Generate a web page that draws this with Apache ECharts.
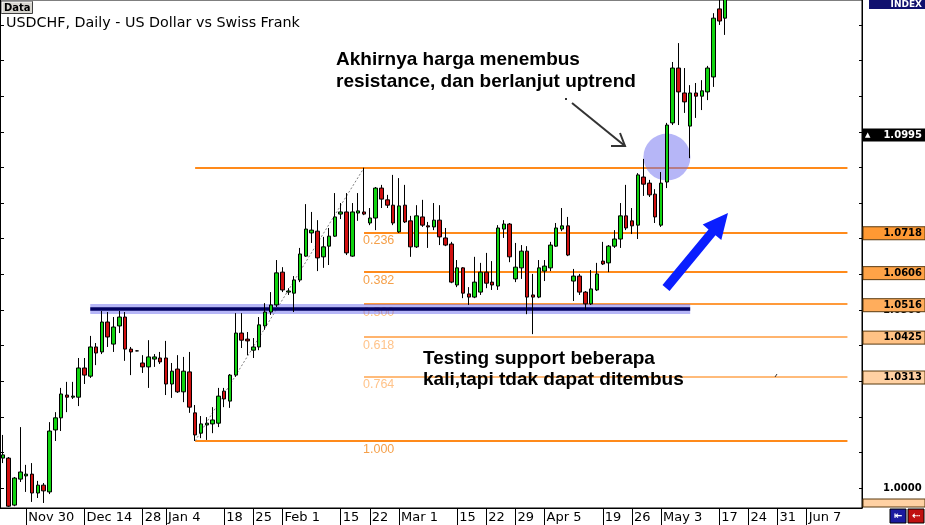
<!DOCTYPE html>
<html><head><meta charset="utf-8">
<script src="https://cdn.jsdelivr.net/npm/echarts@6/dist/echarts.min.js"></script>
<style>html,body{margin:0;padding:0;background:#fff}#c{width:925px;height:525px}</style>
</head><body><div id="c"></div>
<script>
// ---- trading days (weekdays, Jan 1 closed) ----
function tradingDays(startY, startM, startD, count, closed) {
  const out = []; const d = new Date(Date.UTC(startY, startM, startD));
  while (out.length < count) {
    const wd = d.getUTCDay(); const s = d.toISOString().slice(0, 10);
    if (wd !== 0 && wd !== 6 && closed.indexOf(s) < 0) out.push(s);
    d.setUTCDate(d.getUTCDate() + 1);
  }
  return out;
}
const categories = tradingDays(2009, 10, 24, 148, ['2010-01-01']);

const xTickDates = ['2009-11-30','2009-12-14','2009-12-28','2010-01-04','2010-01-18','2010-01-25','2010-02-01','2010-02-15','2010-02-22','2010-03-01','2010-03-15','2010-03-22','2010-03-29','2010-04-05','2010-04-19','2010-04-26','2010-05-03','2010-05-17','2010-05-24','2010-05-31','2010-06-07'];
const xTickLabels = ['Nov 30','Dec 14','28','Jan 4','18','25','Feb 1','15','22','Mar 1','15','22','29','Apr 5','19','26','May 3','17','24','31','Jun 7'];

// ---- USDCHF daily OHLC ----
const opens = [1.0084,1.0084,0.9952,1.0025,1.0034,1.0039,0.9986,1.0008,0.9989,1.0163,
1.0197,1.0261,1.0255,1.0255,1.0337,1.0314,1.0396,1.0382,1.0466,1.0404,
1.0455,1.0480,1.0390,1.0385,1.0351,1.0340,1.0362,1.0365,1.0365,1.0292,
1.0334,1.0270,1.0326,1.0211,1.0154,1.0177,1.0180,1.0182,1.0272,1.0244,
1.0317,1.0435,1.0418,1.0387,1.0396,1.0455,1.0494,1.0514,1.0606,1.0550,
1.0547,1.0584,1.0651,1.0716,1.0721,1.0649,1.0679,1.0707,1.0769,1.0775,
1.0651,1.0772,1.0775,1.0744,1.0758,1.0842,1.0809,1.0794,1.0719,1.0794,
1.0750,1.0677,1.0761,1.0736,1.0733,1.0752,1.0702,1.0685,1.0570,1.0618,
1.0545,1.0536,1.0550,1.0606,1.0578,1.0567,1.0727,1.0741,1.0587,1.0618,
1.0665,1.0542,1.0536,1.0609,1.0618,1.0679,1.0727,1.0736,1.0581,1.0595,
1.0550,1.0517,1.0556,1.0637,1.0632,1.0679,1.0699,1.0764,1.0750,1.0738,
1.0873,1.0856,1.0825,1.0738,1.0859,1.1025,1.1179,1.1109,1.1016,1.1109,
1.1100,1.1112,1.1154,1.1345,1.1319];
const closes = [1.0093,0.9949,1.0028,1.0045,1.0039,0.9986,1.0008,0.9992,1.0160,1.0197,
1.0264,1.0255,1.0258,1.0337,1.0317,1.0396,1.0379,1.0466,1.0424,1.0452,
1.0480,1.0390,1.0382,1.0385,1.0340,1.0368,1.0368,1.0354,1.0292,1.0328,
1.0270,1.0328,1.0227,1.0149,1.0180,1.0182,1.0191,1.0258,1.0250,1.0317,
1.0435,1.0415,1.0413,1.0396,1.0458,1.0494,1.0514,1.0604,1.0556,1.0553,
1.0584,1.0657,1.0727,1.0724,1.0646,1.0677,1.0707,1.0761,1.0775,1.0660,
1.0775,1.0778,1.0769,1.0758,1.0842,1.0811,1.0794,1.0744,1.0792,1.0747,
1.0677,1.0764,1.0738,1.0733,1.0752,1.0705,1.0682,1.0578,1.0618,1.0547,
1.0536,1.0578,1.0606,1.0575,1.0570,1.0730,1.0741,1.0649,1.0620,1.0665,
1.0536,1.0536,1.0618,1.0623,1.0682,1.0730,1.0736,1.0654,1.0595,1.0550,
1.0517,1.0559,1.0601,1.0629,1.0679,1.0699,1.0764,1.0730,1.0736,1.0879,
1.0853,1.0823,1.0761,1.0856,1.1019,1.1179,1.1112,1.1084,1.1109,1.1100,
1.1115,1.1179,1.1319,1.1311,1.1400];
const lows = [1.0070,0.9947,0.9949,1.0017,0.9989,0.9961,0.9972,0.9958,0.9983,1.0132,
1.0160,1.0213,1.0250,1.0230,1.0292,1.0309,1.0345,1.0376,1.0396,1.0382,
1.0435,1.0357,1.0317,1.0384,1.0323,1.0281,1.0340,1.0348,1.0261,1.0253,
1.0267,1.0241,1.0211,1.0132,1.0140,1.0135,1.0154,1.0171,1.0227,1.0225,
1.0312,1.0393,1.0373,1.0365,1.0387,1.0444,1.0486,1.0508,1.0550,1.0542,
1.0494,1.0578,1.0649,1.0688,1.0609,1.0618,1.0626,1.0705,1.0755,1.0654,
1.0649,1.0750,1.0766,1.0738,1.0724,1.0786,1.0786,1.0738,1.0716,1.0744,
1.0649,1.0674,1.0733,1.0674,1.0724,1.0682,1.0679,1.0575,1.0564,1.0533,
1.0514,1.0533,1.0542,1.0561,1.0556,1.0556,1.0702,1.0634,1.0578,1.0587,
1.0488,1.0432,1.0533,1.0581,1.0609,1.0677,1.0721,1.0651,1.0525,1.0542,
1.0500,1.0514,1.0553,1.0626,1.0606,1.0674,1.0674,1.0724,1.0713,1.0699,
1.0820,1.0817,1.0744,1.0733,1.0842,1.1019,1.1019,1.1053,1.0926,1.1039,
1.1061,1.1089,1.1126,1.1300,1.1272];
const highs = [1.0149,1.0087,1.0031,1.0171,1.0065,1.0070,1.0020,1.0014,1.0185,1.0213,
1.0281,1.0298,1.0298,1.0365,1.0365,1.0427,1.0407,1.0497,1.0494,1.0480,
1.0497,1.0494,1.0396,1.0386,1.0373,1.0415,1.0376,1.0382,1.0413,1.0351,
1.0373,1.0368,1.0382,1.0233,1.0202,1.0199,1.0227,1.0281,1.0281,1.0320,
1.0491,1.0491,1.0438,1.0421,1.0480,1.0519,1.0550,1.0640,1.0620,1.0561,
1.0595,1.0674,1.0797,1.0775,1.0752,1.0705,1.0730,1.0828,1.0800,1.0828,
1.0800,1.0828,1.0899,1.0786,1.0845,1.0851,1.0823,1.0879,1.0870,1.0851,
1.0764,1.0794,1.0809,1.0747,1.0800,1.0794,1.0730,1.0691,1.0640,1.0620,
1.0564,1.0649,1.0632,1.0660,1.0637,1.0738,1.0752,1.0744,1.0688,1.0682,
1.0679,1.0601,1.0640,1.0640,1.0691,1.0744,1.0786,1.0761,1.0615,1.0601,
1.0553,1.0612,1.0632,1.0691,1.0682,1.0724,1.0800,1.0851,1.0786,1.0884,
1.0924,1.0865,1.0839,1.0887,1.1025,1.1196,1.1249,1.1179,1.1131,1.1137,
1.1145,1.1185,1.1333,1.1390,1.1450];

// ---- y axis ----
const yMin = 0.99439, yMax = 1.13700;
const yTicks = [1.00,1.01,1.02,1.03,1.04,1.05,1.06,1.07,1.08,1.09,1.10,1.11,1.12,1.13];
const yTickLabels = [1.00, 1.05];

// ---- Fibonacci retracement ----
const fibHigh = 1.0899, fibLow = 1.0132;
const fibRatios = [0, 0.236, 0.382, 0.5, 0.618, 0.764, 1];
const fibLowDate = '2010-01-11', fibHighDate = '2010-02-19', fibEndDate = '2010-06-16';

// ---- support line / breakout ----
const supportLevel = 1.0503, supportStart = '2009-12-15', supportEnd = '2010-05-10';
const breakout = ['2010-05-04', 1.0929];
const currentPrice = 1.0995;

const chart = echarts.init(document.getElementById('c'), null, {renderer: 'canvas'});
const ohlc = opens.map((o, i) => [o, closes[i], lows[i], highs[i]]);
const fibLevels = fibRatios.map(r => +(fibHigh - r * (fibHigh - fibLow)).toFixed(4));
const fibLineColor = ['#ff8a1a','#ff8a1a','#ff8a1a','#ff9a3a','#ffb46e','#ffbb7a','#ff8a1a'];
const fibTextColor = ['#f5a04a','#f5a04a','#f5a04a','#ffc080','#ffc38a','#ffc38a','#f5a04a'];
const priceBoxColor = ['#ff9933','#ff9933','#ffa347','#ffad5c','#ffc285','#ffd1a3','#ff9933'];

const fibMark = [];
fibLevels.forEach((lv, i) => {
  const r = fibRatios[i];
  const start = (r === 0 || r === 1) ? fibLowDate : fibHighDate;
  fibMark.push([{coord: [start, lv], lineStyle: {color: fibLineColor[i], width: 2, type: 'solid'}}, {coord: [fibEndDate, lv]}]);
});
fibMark.push([{coord: [fibLowDate, fibLow], lineStyle: {color: '#808080', width: 1, type: [2, 2]}}, {coord: [fibHighDate, fibHigh]}]);

const tickSet = new Set(xTickDates);
const F = '"DejaVu Sans", sans-serif';

chart.setOption({
  animation: false,
  backgroundColor: '#fff',
  grid: {left: 0, right: 63, top: 0, bottom: 17, show: true, borderColor: '#000', borderWidth: 1, backgroundColor: 'transparent'},
  xAxis: {
    type: 'category', data: categories, boundaryGap: true,
    axisLine: {show: true, lineStyle: {color: '#000', width: 1}},
    axisTick: {show: true, alignWithLabel: true, length: 17, interval: (i, v) => tickSet.has(v), lineStyle: {color: '#000'}},
    axisLabel: {show: true, interval: (i, v) => tickSet.has(v), formatter: v => xTickLabels[xTickDates.indexOf(v)] || '',
      align: 'left', margin: 3, padding: [0, 0, 0, 2], color: '#000', fontFamily: F, fontSize: 13},
    splitLine: {show: false}
  },
  yAxis: [{
    type: 'value', position: 'right', min: yMin, max: yMax, scale: true,
    axisLine: {show: true, lineStyle: {color: '#000'}},
    axisTick: {show: true, inside: true, length: 3, customValues: yTicks, lineStyle: {color: '#000'}},
    axisLabel: {show: true, customValues: yTickLabels, formatter: v => v.toFixed(4), margin: 21, color: '#000', fontFamily: F, fontSize: 10, fontWeight: 'bold'},
    splitLine: {show: false}
  }, {
    type: 'value', position: 'left', min: yMin, max: yMax, scale: true,
    axisLine: {show: true, lineStyle: {color: '#000'}},
    axisTick: {show: true, inside: true, length: 4, customValues: yTicks, lineStyle: {color: '#000'}},
    axisLabel: {show: false}, splitLine: {show: false}
  }],
  series: [
    {type: 'line', name: 'fib', data: [], silent: true,
     markLine: {z: 1, silent: true, animation: false, symbol: ['none', 'none'], label: {show: false}, data: fibMark}},
    {type: 'line', name: 'support', data: [], silent: true,
     markLine: {z: 2, silent: true, animation: false, symbol: ['none', 'none'], label: {show: false}, data: [
       [{coord: [supportStart, supportLevel], lineStyle: {color: 'rgb(110,110,240)', opacity: 0.5, width: 10, type: 'solid'}}, {coord: [supportEnd, supportLevel]}],
       [{coord: [supportStart, supportLevel], lineStyle: {color: '#000060', opacity: 1, width: 3.5, type: 'solid'}}, {coord: [supportEnd, supportLevel]}]
     ]}},
    {type: 'scatter', name: 'breakout', data: [breakout], symbolSize: 47, z: 2, silent: true,
     itemStyle: {color: 'rgb(110,110,240)', opacity: 0.5}},
    {type: 'candlestick', name: 'USDCHF', data: ohlc, z: 3, barWidth: 4, clip: true,
     itemStyle: {color: '#10d410', color0: '#d01010', borderColor: '#000', borderColor0: '#000', borderColorDoji: '#000', borderWidth: 1}}
  ]
});

// ---- overlays positioned from data coordinates ----
const py = v => chart.convertToPixel({yAxisIndex: 0}, v);
const px = c => chart.convertToPixel({xAxisIndex: 0}, c);
const g = [];
const fibNames = ['0.000','0.236','0.382','0.500','0.618','0.764','1.000'];
fibLevels.forEach((lv, i) => {
  if (i === 0) return;
  g.push({type: 'text', z: 1, x: px(fibHighDate) - 1, y: py(lv) + 2,
    style: {text: fibNames[i], fill: fibTextColor[i], font: '12.5px "Liberation Sans", Arial, sans-serif', align: 'left', verticalAlign: 'top'}});
});
// price boxes on the right axis
fibLevels.forEach((lv, i) => {
  if (i === 0 || i === 6) return;
  const y = py(lv) + 1;
  g.push({type: 'rect', z: 10, shape: {x: 863, y: y - 6.5, width: 62, height: 13}, style: {fill: priceBoxColor[i], stroke: '#5a3a10', lineWidth: 1}});
  g.push({type: 'text', z: 11, x: 922, y: y, style: {text: lv.toFixed(4), fill: '#000', font: 'bold 10px ' + F, align: 'right', verticalAlign: 'middle'}});
});
{
  const y = py(currentPrice) + 1.5;
  g.push({type: 'rect', z: 10, shape: {x: 862, y: y - 6.5, width: 63, height: 13}, style: {fill: '#000'}});
  g.push({type: 'text', z: 11, x: 865, y: y, style: {text: '▲', fill: '#fff', font: 'bold 7px ' + F, align: 'left', verticalAlign: 'middle'}});
  g.push({type: 'text', z: 11, x: 922, y: y, style: {text: currentPrice.toFixed(4), fill: '#fff', font: 'bold 10px ' + F, align: 'right', verticalAlign: 'middle'}});
}
// partially hidden label at bottom
g.push({type: 'rect', z: 10, shape: {x: 863, y: 499, width: 62, height: 8}, style: {fill: '#ffd1a3', stroke: '#5a3a10', lineWidth: 1}});
// header / title
g.push({type: 'rect', z: 10, shape: {x: 869, y: 0, width: 56, height: 9}, style: {fill: '#10106e'}});
g.push({type: 'text', z: 11, x: 922, y: 4.5, style: {text: 'INDEX', fill: '#fff', font: 'bold 9px ' + F, align: 'right', verticalAlign: 'middle'}});
g.push({type: 'rect', z: 10, shape: {x: 1.5, y: 1.5, width: 31, height: 12}, style: {fill: '#d8d6d0', stroke: '#404040', lineWidth: 1}});
g.push({type: 'polyline', z: 11, shape: {points: [[2, 13], [2, 2], [32, 2]]}, style: {stroke: '#ffffff', lineWidth: 1}});
g.push({type: 'text', z: 11, x: 4, y: 8, style: {text: 'Data', fill: '#000', font: 'bold 10px ' + F, align: 'left', verticalAlign: 'middle'}});
g.push({type: 'text', z: 11, x: 6, y: 23.5, style: {text: 'USDCHF, Daily - US Dollar vs Swiss Frank', fill: '#000', font: '14.3px ' + F, align: 'left', verticalAlign: 'middle'}});
// buttons
g.push({type: 'rect', z: 10, shape: {x: 890, y: 509, width: 16, height: 14}, style: {fill: '#1a1aa0', stroke: '#000', lineWidth: 1}});
g.push({type: 'rect', z: 10, shape: {x: 908, y: 509, width: 16, height: 14}, style: {fill: '#c01010', stroke: '#000', lineWidth: 1}});
g.push({type: 'text', z: 11, x: 898, y: 516, style: {text: '⇤', fill: '#fff', font: 'bold 10px ' + F, align: 'center', verticalAlign: 'middle'}});
g.push({type: 'text', z: 11, x: 916, y: 516, style: {text: '⇠', fill: '#fff', font: 'bold 10px ' + F, align: 'center', verticalAlign: 'middle'}});
// annotations
const TF = 'bold 19px "Liberation Sans", Arial, sans-serif';
[['Akhirnya harga menembus', 336, 60], ['resistance, dan berlanjut uptrend', 336, 82],
 ['Testing support beberapa', 423, 359], ['kali,tapi tdak dapat ditembus', 423, 380]].forEach(t => {
  g.push({type: 'text', z: 20, x: t[1], y: t[2], style: {text: t[0], fill: '#000', font: TF, align: 'left', verticalAlign: 'middle'}});
});
g.push({type: 'polyline', z: 20, shape: {points: [[572, 103], [625, 146]]}, style: {stroke: '#333', lineWidth: 2}});
g.push({type: 'polyline', z: 20, shape: {points: [[611, 146], [625, 146], [620, 133]]}, style: {stroke: '#333', lineWidth: 2}});
g.push({type: 'rect', z: 20, shape: {x: 565, y: 98, width: 2, height: 2}, style: {fill: '#333'}});
g.push({type: 'polyline', z: 20, shape: {points: [[775, 377], [777, 374]]}, style: {stroke: '#333', lineWidth: 1}});
g.push({type: 'polygon', z: 20, shape: {points: [[662.5, 285.1], [708.5, 229.4], [702.7, 224.6], [728, 213], [721.3, 240], [715.5, 235.2], [669.5, 290.9]]}, style: {fill: '#0a1eff'}});
chart.setOption({graphic: g});
</script></body></html>
